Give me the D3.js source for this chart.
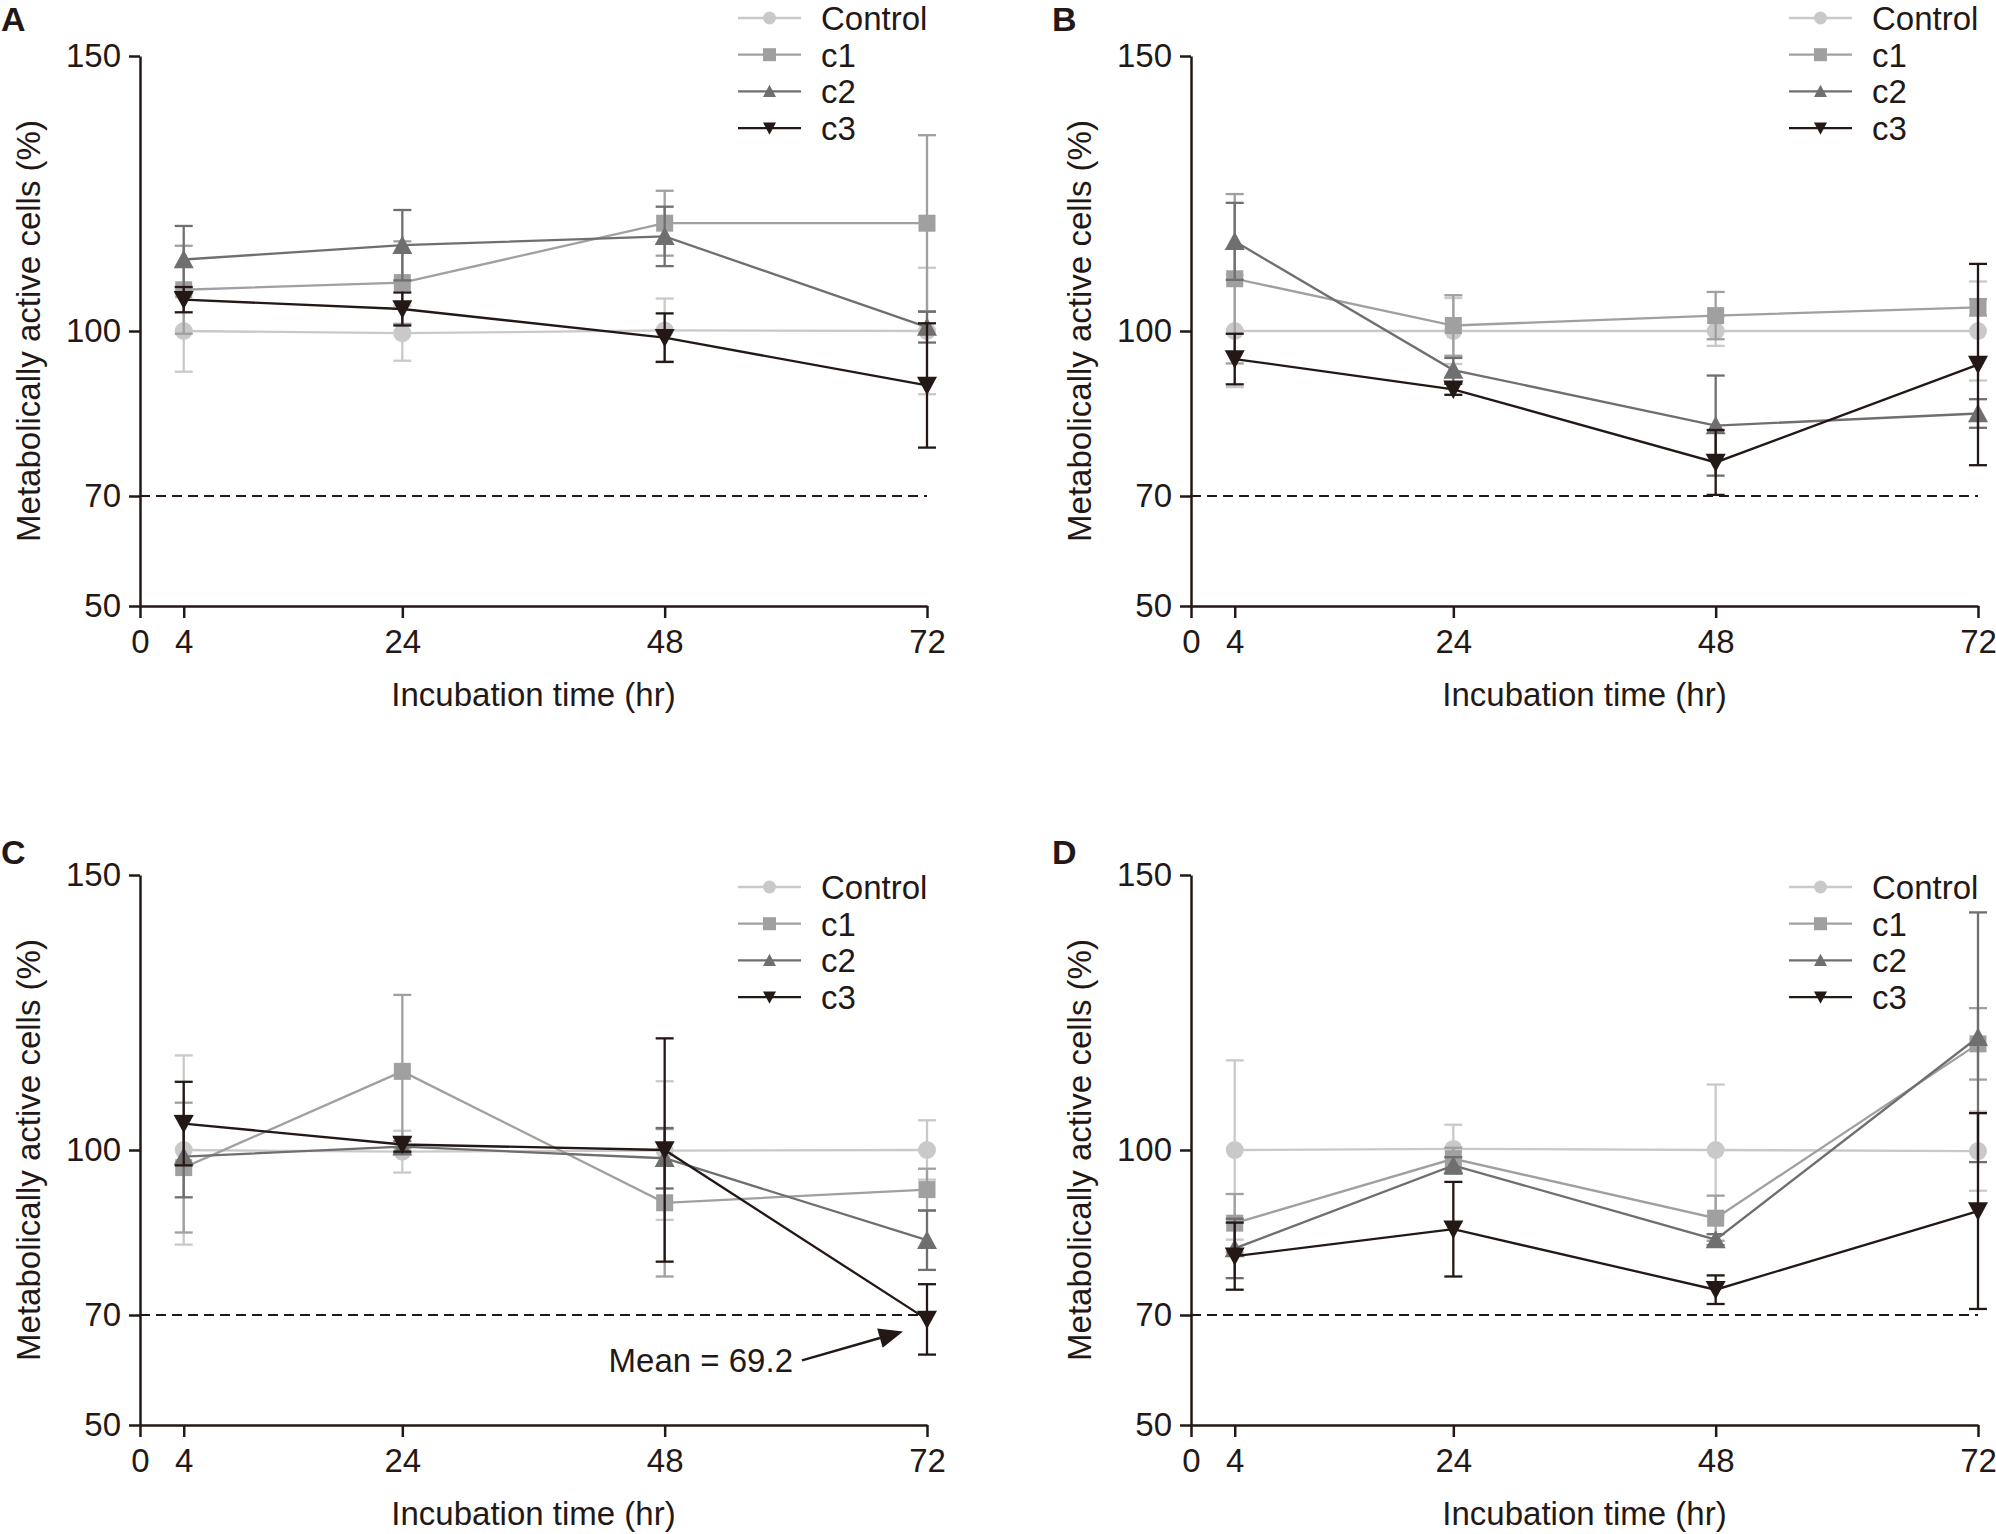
<!DOCTYPE html>
<html>
<head>
<meta charset="utf-8">
<script src="https://cdn.jsdelivr.net/npm/d3@7"></script>
<style>
  body { margin: 0; background: #fff; }
  svg text { font-family: "Liberation Sans", Arial, sans-serif; fill: #231815; }
</style>
</head>
<body>
<svg id="chart" width="1996" height="1534"></svg>
<script>
const times = [4, 24, 48, 72];
const seriesNames = ["Control", "c1", "c2", "c3"];
const xTicks = [0, 4, 24, 48, 72];
const yTicks = [50, 70, 100, 150];
const cutoff = 70;
const meanLabel = "Mean = 69.2";

// rows: Control, c1, c2, c3 ; columns: 4, 24, 48, 72 hr
const meansA = [
  [100, 99.6, 100.1, 100],
  [107.5, 108.8, 119.6, 119.6],
  [113.0, 115.6, 117.2, 100.7],
  [105.7, 104.0, 98.8, 90.1]
];
const errA = [
  [7.4, 5.0, 5.8, 11.5],
  [8.0, 7.5, 5.9, 16.0],
  [6.1, 6.4, 5.4, 2.8],
  [2.3, 3.0, 4.4, 11.3]
];
const meansB = [
  [100, 100, 100, 100],
  [109.5, 101.0, 102.8, 104.3],
  [116.3, 92.9, 82.8, 85.0],
  [94.9, 89.4, 76.1, 93.9]
];
const errB = [
  [10.2, 6.0, 2.7, 9.0],
  [15.4, 5.5, 4.3, 1.5],
  [7.0, 2.2, 9.1, 2.6],
  [4.6, 1.0, 5.9, 18.3]
];
const meansC = [
  [100, 99.7, 99.9, 100],
  [96.8, 114.3, 90.4, 92.8],
  [98.8, 100.6, 98.5, 83.6],
  [104.8, 101.0, 100.0, 69.2]
];
const errC = [
  [17.2, 3.8, 12.6, 5.4],
  [11.8, 13.9, 13.4, 3.8],
  [7.4, 1.0, 5.5, 5.4],
  [7.6, 1.3, 20.3, 6.4]
];
const meansD = [
  [100, 100.2, 100, 99.8],
  [86.7, 98.4, 87.6, 119.3],
  [82.1, 97.2, 83.7, 120.5],
  [80.7, 85.6, 74.6, 88.9]
];
const errD = [
  [16.3, 4.4, 11.9, 7.2],
  [5.3, 2.0, 4.1, 6.5],
  [5.4, 1.5, 1.0, 22.7],
  [6.1, 8.6, 2.6, 17.8]
];

const ink = "#231815";
const colors = ["#c9c9c9", "#a0a0a0", "#6f6f6f", ink];
const shapes = ["circle", "square", "triUp", "triDown"];
const markSizes = [18, 17, 20, 20];

const plotW = 787, plotH = 550;
const panels = [
  {letter: "A", means: meansA, errs: errA, left: 140, top: 56, letterY: 31, legendY: 18},
  {letter: "B", means: meansB, errs: errB, left: 1191, top: 56, letterY: 31, legendY: 18},
  {letter: "C", means: meansC, errs: errC, left: 140, top: 875, letterY: 864, legendY: 887, note: true},
  {letter: "D", means: meansD, errs: errD, left: 1191, top: 875, letterY: 864, legendY: 887}
];

const svg = d3.select("#chart");

function markerPath(shape, s) {
  const h = s / 2;
  if (shape === "circle") return d3.symbol(d3.symbolCircle, Math.PI * h * h)();
  if (shape === "square") return `M${-h},${-h}H${h}V${h}H${-h}Z`;
  const th = s * 0.87;
  if (shape === "triUp") return `M0,${-th / 2 - 1}L${h},${th / 2}L${-h},${th / 2}Z`;
  return `M0,${th / 2 + 1}L${h},${-th / 2}L${-h},${-th / 2}Z`;
}

function drawPanel(p) {
  const g = svg.append("g");
  const x = d3.scaleLinear().domain([0, 72]).range([p.left, p.left + plotW]);
  const y = d3.scaleLinear().domain([50, 150]).range([p.top + plotH, p.top]);

  // axes
  const yAxis = g.append("g").attr("transform", `translate(${p.left},0)`)
    .call(d3.axisLeft(y).tickValues(yTicks).tickSize(11).tickSizeOuter(0).tickPadding(8));
  const xAxis = g.append("g").attr("transform", `translate(0,${p.top + plotH})`)
    .call(d3.axisBottom(x).tickValues(xTicks).tickSize(12).tickSizeOuter(0).tickPadding(12));
  [yAxis, xAxis].forEach(a => {
    a.selectAll("path, line").attr("stroke", ink).attr("stroke-width", 2.5);
    a.selectAll("text").attr("font-size", 33).attr("fill", ink)
      .style("font-family", '"Liberation Sans", Arial, sans-serif');
  });

  // cutoff line
  g.append("line")
    .attr("x1", x(0)).attr("x2", x(72))
    .attr("y1", y(cutoff)).attr("y2", y(cutoff))
    .attr("stroke", ink).attr("stroke-width", 2).attr("stroke-dasharray", "10,6");

  // series
  const line = d3.line().x(d => x(d.t)).y(d => y(d.v));
  p.means.forEach((vals, i) => {
    const pts = vals.map((v, j) => ({t: times[j], v, e: p.errs[i][j]}));
    const sg = g.append("g");
    pts.forEach(d => {
      sg.append("line").attr("x1", x(d.t)).attr("x2", x(d.t))
        .attr("y1", y(d.v - d.e)).attr("y2", y(d.v + d.e))
        .attr("stroke", colors[i]).attr("stroke-width", 2.3);
      [d.v - d.e, d.v + d.e].forEach(c => {
        sg.append("line").attr("x1", x(d.t) - 9).attr("x2", x(d.t) + 9)
          .attr("y1", y(c)).attr("y2", y(c))
          .attr("stroke", colors[i]).attr("stroke-width", 2.3);
      });
    });
    sg.append("path").datum(pts).attr("d", line)
      .attr("fill", "none").attr("stroke", colors[i]).attr("stroke-width", 2.3);
    sg.selectAll(".mk").data(pts).join("path")
      .attr("d", markerPath(shapes[i], markSizes[i]))
      .attr("transform", d => `translate(${x(d.t)},${y(d.v)})`)
      .attr("fill", colors[i]);
  });

  // legend
  const lx = p.left + 598;
  seriesNames.forEach((name, i) => {
    const ly = p.legendY + i * 36.7;
    g.append("line").attr("x1", lx).attr("x2", lx + 63).attr("y1", ly).attr("y2", ly)
      .attr("stroke", colors[i]).attr("stroke-width", 2.3);
    g.append("path").attr("d", markerPath(shapes[i], 13))
      .attr("transform", `translate(${lx + 31.5},${ly})`).attr("fill", colors[i]);
    g.append("text").attr("x", lx + 83).attr("y", ly + 12).attr("font-size", 33).text(name);
  });

  // titles
  g.append("text").attr("x", (x(0) + x(72)) / 2).attr("y", p.top + plotH + 100)
    .attr("text-anchor", "middle").attr("font-size", 33).text("Incubation time (hr)");
  g.append("text")
    .attr("transform", `translate(${p.left - 100},${p.top + plotH / 2}) rotate(-90)`)
    .attr("text-anchor", "middle").attr("font-size", 33).text("Metabolically active cells (%)");
  g.append("text").attr("x", p.left - 139).attr("y", p.letterY)
    .attr("font-size", 34).attr("font-weight", "bold").text(p.letter);

  // annotation for the lowest mean
  if (p.note) {
    const px = x(72), py = y(p.means[3][3]);
    g.append("text").attr("x", px - 134).attr("y", py + 53)
      .attr("text-anchor", "end").attr("font-size", 33).text(meanLabel);
    const x1 = px - 125, y1 = py + 41, x2 = px - 24, y2 = py + 12;
    const ang = Math.atan2(y2 - y1, x2 - x1);
    const hl = 24, hw = 10;
    const bx = x2 - hl * Math.cos(ang), by = y2 - hl * Math.sin(ang);
    g.append("line").attr("x1", x1).attr("y1", y1).attr("x2", bx).attr("y2", by)
      .attr("stroke", ink).attr("stroke-width", 2.5);
    g.append("path")
      .attr("d", `M${x2},${y2}L${bx + hw * Math.sin(ang)},${by - hw * Math.cos(ang)}L${bx - hw * Math.sin(ang)},${by + hw * Math.cos(ang)}Z`)
      .attr("fill", ink);
  }
}

panels.forEach(drawPanel);
</script>
</body>
</html>
